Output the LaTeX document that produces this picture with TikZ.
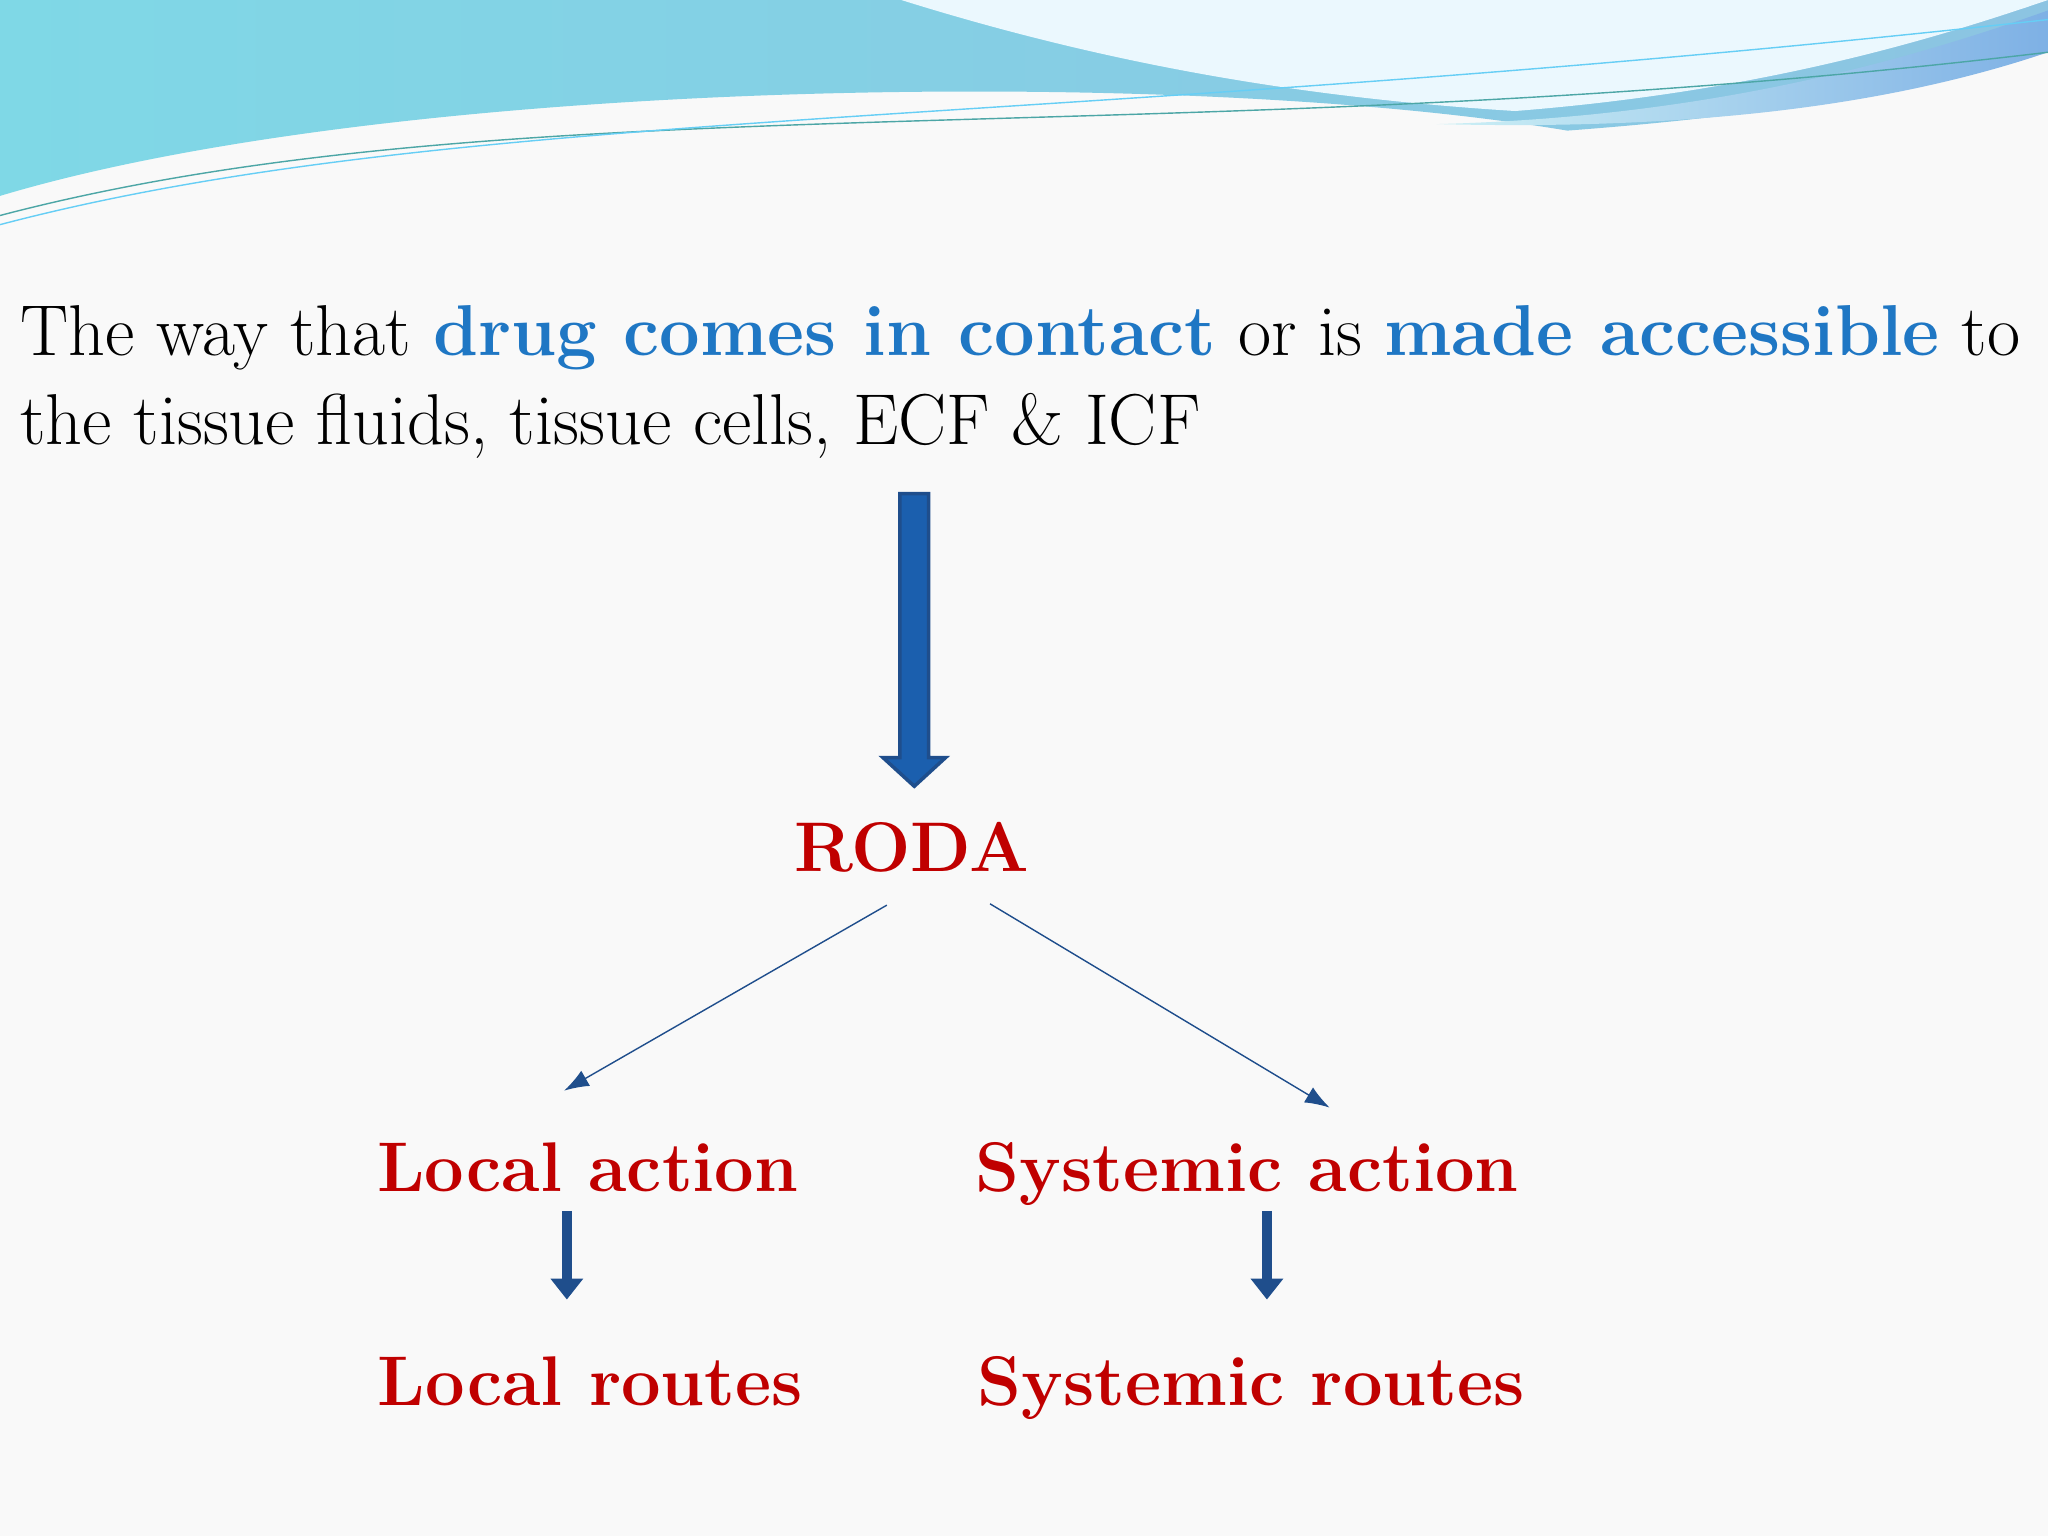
\documentclass[tikz,border=0pt]{standalone}
\usepackage{tikz}
\usetikzlibrary{arrows.meta}
\definecolor{textblue}{HTML}{1F77C4}
\definecolor{rodared}{HTML}{C00000}
\definecolor{arrowblue}{HTML}{1B5FAE}
\definecolor{lineblue}{HTML}{1F4E8C}
\definecolor{wavecyan}{HTML}{7FD8E6}
\definecolor{waveblue}{HTML}{8CC4E2}
\tikzset{
    body/.style={font=\fontsize{20.5}{24}\selectfont, anchor=base west, inner sep=0pt},
    key/.style={font=\fontsize{20}{24}\selectfont\bfseries, text=rodared, anchor=base},
    branch/.style={draw=lineblue, thin, -{Latex[length=7pt,width=5pt]}},
    step arrow/.style={draw=lineblue, line width=3pt, -{Triangle[length=6pt,width=9pt]}}
}

\begin{document}
\begin{tikzpicture}[x=0.01306cm,y=-0.01306cm]
    \useasboundingbox[fill=gray!5] (0,0) rectangle (1568,1176);

    % waves at the top
    \shade[left color=wavecyan, right color=waveblue] (0,0) -- (0,150)
        .. controls (300,60) and (900,50) .. (1200,100)
        .. controls (1400,85) and (1500,60) .. (1568,30) -- (1568,0) -- cycle;
    \fill[white!92!cyan] (690,0) .. controls (850,50) and (1000,75) .. (1160,85)
        .. controls (1350,70) and (1480,30) .. (1568,0) -- cycle;
    \shade[left color=white!60!wavecyan, right color=waveblue!90!blue] (1100,95)
        .. controls (1300,90) and (1450,50) .. (1568,8) -- (1568,40)
        .. controls (1450,80) and (1300,100) .. (1100,95);
    \draw[teal!70, thin] (0,165) .. controls (400,60) and (900,120) .. (1568,40);
    \draw[cyan!60, thin] (0,172) .. controls (350,80) and (800,100) .. (1568,15);

    % text
    \node[body] (line1) at (15,272) {The way that \textbf{\color{textblue}drug comes in contact} or is \textbf{\color{textblue}made accessible} to};
    \node[body] (line2) at (15,340) {the tissue fluids, tissue cells, ECF \& ICF};

    \draw[draw=lineblue, fill=arrowblue, line width=1pt]
        (689,378) -- (711,378) -- (711,580) -- (724,580) -- (700,602)
        -- (676,580) -- (689,580) -- cycle;

    \node[key] (roda) at (698,667) {RODA};
    \node[key] (local) at (450,912) {Local action};
    \node[key] (systemic) at (955,912) {Systemic action};
    \node[key] (localr) at (452,1076) {Local routes};
    \node[key] (systemicr) at (958,1076) {Systemic routes};

    \coordinate (rodaL) at (679,693);
    \coordinate (rodaR) at (758,692);
    \coordinate (localT) at (432,835);
    \coordinate (systemicT) at (1018,848);
    \coordinate (localB) at (434,927);
    \coordinate (systemicB) at (970,927);
    \draw[branch] (rodaL) -- (localT);
    \draw[branch] (rodaR) -- (systemicT);

    \draw[step arrow] (localB) -- (localB |- 0,995);
    \draw[step arrow] (systemicB) -- (systemicB |- 0,995);
\end{tikzpicture}
\end{document}
